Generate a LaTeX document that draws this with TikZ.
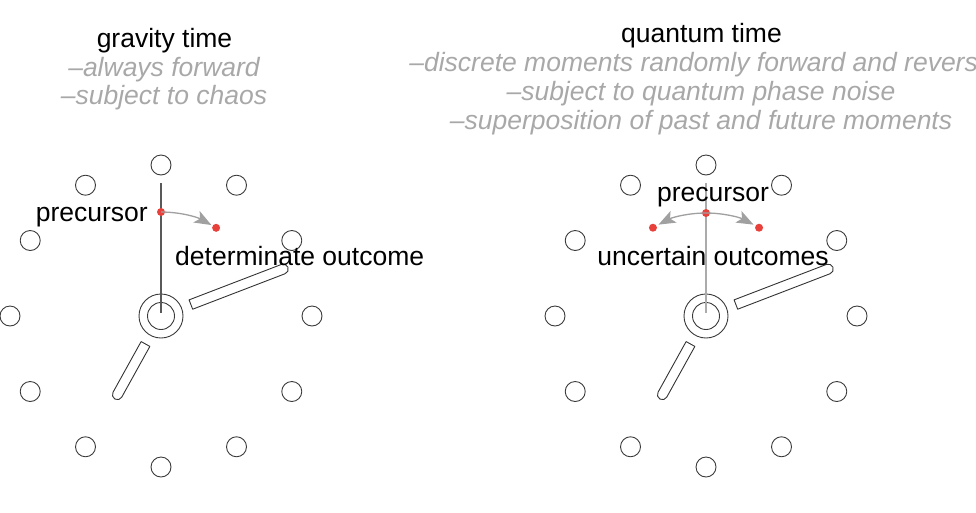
\documentclass[tikz,border=0pt]{standalone}
\usepackage{fontspec}
\setmainfont{Liberation Sans}
\usetikzlibrary{arrows.meta}
\definecolor{inkgray}{HTML}{3A3A3A}
\definecolor{notegray}{HTML}{A8A8A8}
\definecolor{dotred}{HTML}{E8413C}
\definecolor{arrgray}{HTML}{A0A0A0}
\tikzset{
  tick/.style={circle, draw=inkgray, line width=0.9pt, minimum size=20pt, inner sep=0pt},
  hubin/.style={circle, draw=inkgray, line width=0.9pt, minimum size=27pt, inner sep=0pt},
  hubout/.style={circle, draw=inkgray, line width=0.9pt, minimum size=44pt, inner sep=0pt},
  hand/.style={draw=black!80, line width=0.9pt, line join=round},
  reddot/.style={circle, fill=dotred, minimum size=8pt, inner sep=0pt},
  arr/.style={draw=arrgray, line width=1.3pt, -{Stealth[length=17pt,width=13pt,inset=4pt]}},
  title/.style={font=\fontsize{26.5}{30}\selectfont, text=black, inner sep=0pt, anchor=base},
  note/.style={font=\fontsize{26.5}{30}\selectfont\itshape, text=notegray, inner sep=0pt, anchor=base},
  lab/.style={font=\fontsize{26.5}{30}\selectfont, text=black, inner sep=0pt}
}
\newcommand{\drawclock}[3]{%
  \begin{scope}[shift={(#2,316)}, yscale=-1]
    \foreach \k in {0,...,11} \node[tick] (#1t\k) at (\k*30:151) {};
    \node[hubout] (#1ring) at (0,0) {};
    \node[hubin] (#1hub) at (0,0) {};
    \coordinate (#1top) at (0,133);
    \draw[#3] (#1hub.center) ++(0,3) -- (#1top);
    \draw[hand, rotate=-21] (32,-5) -- (131,-5) arc[start angle=-90, end angle=90, radius=5] -- (32,5) -- cycle;
    \draw[hand, rotate=-241] (32,-5) -- (90,-5) arc[start angle=-90, end angle=90, radius=5] -- (32,5) -- cycle;
  \end{scope}}
\begin{document}
\begin{tikzpicture}[x=1pt, y=-1pt]
\clip (0,0) rectangle (976,512);
\useasboundingbox (0,0) rectangle (976,512);
% clocks
\drawclock{L}{161}{draw=black!65, line width=1.7pt}
\drawclock{R}{706}{draw=black!33, line width=1.3pt}
% left clock: precursor and determinate outcome
\begin{scope}[shift={(161,316)}, yscale=-1]
  \node[reddot] (Lpre) at (90:104) {};
  \node[reddot] (Lout) at (58:104) {};
  \draw[arr] (Lpre.center) arc[start angle=90, end angle=61, radius=104];
\end{scope}
% right clock: precursor and two outcomes
\begin{scope}[shift={(706,316)}, yscale=-1]
  \node[reddot] (Rpre) at (90:103) {};
  \node[reddot] (Rout1) at (121:103) {};
  \node[reddot] (Rout2) at (59:103) {};
  \draw[arr] (Rpre.center) arc[start angle=90, end angle=117.5, radius=103];
  \draw[arr] (Rpre.center) arc[start angle=90, end angle=62.5, radius=103];
\end{scope}
% labels
\node[lab, anchor=base east] (Lprelab) at (148,221.7) {precursor};
\node[lab, anchor=base west] (Loutlab) at (175,265) {determinate outcome};
\node[lab, anchor=base] (Rprelab) at (713,201.7) {precursor};
\node[lab, anchor=base] (Routlab) at (713,265) {uncertain outcomes};
% headings
\node[title] (gt) at (164.5,47.5) {gravity time};
\node[note] (g1) at (164,76) {–always forward};
\node[note] (g2) at (164,104.5) {–subject to chaos};
\node[title] (qt) at (701.5,42.5) {quantum time};
\node[note] (q1) at (701,71) {–discrete moments randomly forward and reverse};
\node[note] (q2) at (701,100.5) {–subject to quantum phase noise};
\node[note] (q3) at (701,129) {–superposition of past and future moments};
\end{tikzpicture}
\end{document}
